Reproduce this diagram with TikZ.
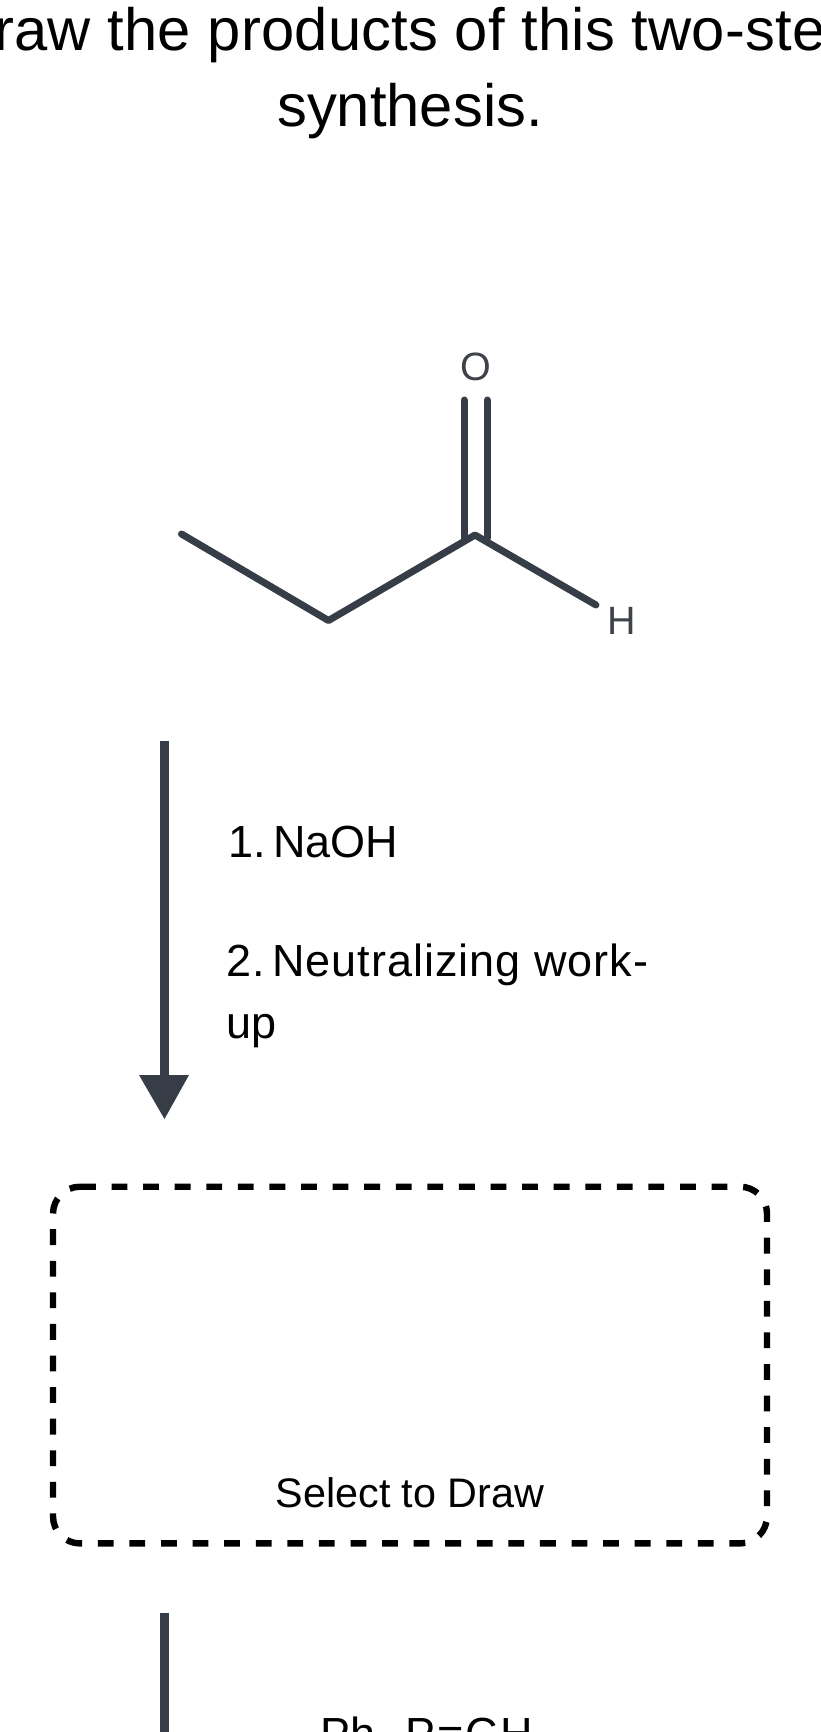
\documentclass[tikz,border=0pt]{standalone}
\usepackage{fontspec}
\setmainfont{Liberation Sans}
\definecolor{ink}{HTML}{373D47}
\definecolor{lbl}{HTML}{3F4349}
\tikzset{
  x=1pt,y=-1pt,
  bond/.style={draw=ink,line width=7pt,line cap=round,line join=round},
  shaft/.style={draw=ink,line width=8.5pt},
  headtip/.style={fill=ink,draw=none},
  title/.style={inner sep=0pt,font=\fontsize{59.7}{59.7}\selectfont,text=black},
  atom/.style={inner sep=0pt,font=\fontsize{39.5}{39.5}\selectfont,text=lbl},
  reagent/.style={inner sep=0pt,anchor=base west,font=\fontsize{45}{45}\selectfont,text=black},
  hint/.style={inner sep=0pt,anchor=base,font=\fontsize{41.3}{41.3}\selectfont,text=black},
  dropbox/.style={draw=black,line width=6.4pt,dash pattern=on 15.8pt off 15.78pt,rounded corners=27pt}
}
\begin{document}
\begin{tikzpicture}
\useasboundingbox (0,0) rectangle (820,1732);
\clip (0,0) rectangle (820,1732);
% title
\node[title,anchor=base] (t1) at (410,50) {\addfontfeature{LetterSpace=0.3}raw the products of this two-ste};
\node[title,anchor=base] (t2) at (410,126) {synthesis.};
% molecule
\coordinate (c1) at (181.5,534);
\coordinate (c2) at (328.5,620.5);
\coordinate (c3) at (475,535);
\coordinate (ch) at (596,605);
\coordinate (d1a) at (464,400); \coordinate (d1b) at (464,538);
\coordinate (d2a) at (487,400); \coordinate (d2b) at (487,538);
\node[atom] (O) at (475.5,367) {O};
\node[atom] (H) at (622,621) {H};
\draw[bond] (c1) -- (c2) -- (c3) -- (ch);
\draw[bond] (d1b) -- (d1a);
\draw[bond] (d2b) -- (d2a);
% first arrow
\coordinate (a1s) at (164.5,741);
\coordinate (a1e) at (164.5,1078);
\draw[shaft] (a1s) -- (a1e);
\fill[headtip] (139,1075) -- (189,1075) -- (164.5,1119) -- cycle;
\node[reagent] (r1) at (228,857) {1.\hspace{0.17em}NaOH};
\node[reagent] (r2) at (226.5,976.7) {\addfontfeature{LetterSpace=2.2}2.\hspace{0.16em}Neutralizing work-};
\node[reagent] (r3) at (226.5,1038) {up};
% dashed drop box
\draw[dropbox] (80,1186.7) -- (767,1186.7) -- (767,1543.4) -- (53,1543.4) -- (53,1186.7) -- (80,1186.7);
\node[hint] (sel) at (410,1507) {Select to Draw};
% second arrow
\coordinate (a2s) at (164.5,1613);
\coordinate (a2e) at (164.5,1740);
\draw[shaft] (a2s) -- (a2e);
\node[reagent] (r4) at (320,1749) {Ph\makebox[30pt]{\raisebox{-10pt}{\fontsize{30}{30}\selectfont 3}}{\addfontfeature{LetterSpace=5}P=CH}\raisebox{-10pt}{\fontsize{30}{30}\selectfont 2}};
\end{tikzpicture}
\end{document}
